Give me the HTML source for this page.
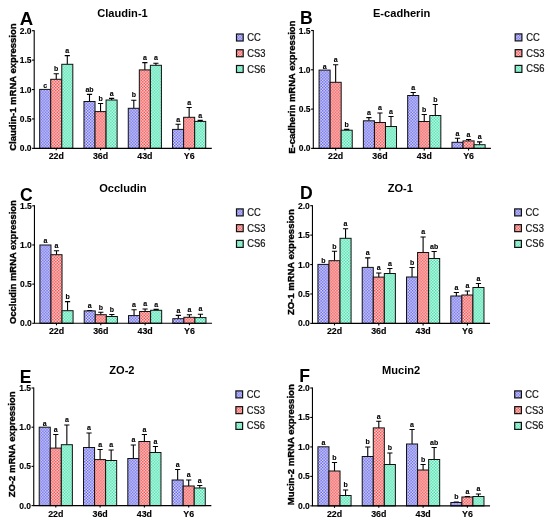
<!DOCTYPE html>
<html lang="en"><head><meta charset="utf-8"><title>Tight junction mRNA expression</title>
<style>html,body{margin:0;padding:0;background:#fff}body{width:550px;height:523px;overflow:hidden}svg{display:block}text{font-family:"Liberation Sans",Arial,Helvetica,sans-serif;fill:#000}.b{font-weight:bold}.pl{font-size:17.6px}.tt{font-size:11.1px}.yl{stroke:#000;stroke-width:0.35px}.tk{font-size:8.5px;stroke:#000;stroke-width:0.12px}.xl{font-size:8.85px;stroke:#000;stroke-width:0.12px}.sg{font-size:7px;stroke:#000;stroke-width:0.12px}.lg{font-size:10.2px;fill:#111;stroke:#111;stroke-width:0.2px}</style></head><body>
<svg width="550" height="523" viewBox="0 0 550 523">
<defs>
<pattern id="pcc" patternUnits="userSpaceOnUse" width="2.9" height="2.9"><rect width="2.9" height="2.9" fill="#e4e4ff"/><rect x="0" y="0" width="1.45" height="1.45" fill="#5c5ce4"/><rect x="1.45" y="1.45" width="1.45" height="1.45" fill="#5c5ce4"/></pattern>
<pattern id="pcs3" patternUnits="userSpaceOnUse" width="2.9" height="2.9"><rect width="2.9" height="2.9" fill="#ffd8d8"/><rect x="0" y="0" width="1.45" height="1.45" fill="#f04c4c"/><rect x="1.45" y="1.45" width="1.45" height="1.45" fill="#f04c4c"/></pattern>
<pattern id="pcs6" patternUnits="userSpaceOnUse" width="2.9" height="2.9"><rect width="2.9" height="2.9" fill="#d4fff0"/><rect x="0" y="0" width="1.45" height="1.45" fill="#40dca8"/><rect x="1.45" y="1.45" width="1.45" height="1.45" fill="#40dca8"/></pattern>
</defs>
<rect width="550" height="523" fill="#fff"/>
<g id="panel-A">
<text class="b pl" transform="translate(19.8,25.0) scale(1.06,1)">A</text>
<text class="b tt" x="122.5" y="16.7" text-anchor="middle">Claudin-1</text>
<text class="b yl" font-size="9.5" transform="translate(15.85,87.1) rotate(-90)" text-anchor="middle">Claudin-1 mRNA expression</text>
<rect x="39.67" y="89.40" width="11.05" height="58.95" fill="url(#pcc)" stroke="#111" stroke-width="1"/>
<text class="b sg" x="45.20" y="87.80" text-anchor="middle">c</text>
<path d="M56.25 79.30V73.70M53.65 73.70H58.85" stroke="#000" stroke-width="1.1" fill="none"/>
<rect x="50.72" y="79.30" width="11.05" height="69.05" fill="url(#pcs3)" stroke="#111" stroke-width="1"/>
<text class="b sg" x="56.25" y="70.90" text-anchor="middle">b</text>
<path d="M67.30 64.30V55.60M64.70 55.60H69.90" stroke="#000" stroke-width="1.1" fill="none"/>
<rect x="61.77" y="64.30" width="11.05" height="84.05" fill="url(#pcs6)" stroke="#111" stroke-width="1"/>
<text class="b sg" x="67.30" y="52.80" text-anchor="middle">a</text>
<path d="M56.25 148.35v2.0" stroke="#000" stroke-width="1.1"/>
<text class="b xl" x="56.25" y="159.1" text-anchor="middle">22d</text>
<path d="M89.50 101.50V94.40M86.90 94.40H92.10" stroke="#000" stroke-width="1.1" fill="none"/>
<rect x="83.97" y="101.50" width="11.05" height="46.85" fill="url(#pcc)" stroke="#111" stroke-width="1"/>
<text class="b sg" x="89.50" y="91.60" text-anchor="middle">ab</text>
<path d="M100.55 111.60V103.50M97.95 103.50H103.15" stroke="#000" stroke-width="1.1" fill="none"/>
<rect x="95.02" y="111.60" width="11.05" height="36.75" fill="url(#pcs3)" stroke="#111" stroke-width="1"/>
<text class="b sg" x="100.55" y="100.70" text-anchor="middle">b</text>
<path d="M111.60 100.00V98.40M109.00 98.40H114.20" stroke="#000" stroke-width="1.1" fill="none"/>
<rect x="106.07" y="100.00" width="11.05" height="48.35" fill="url(#pcs6)" stroke="#111" stroke-width="1"/>
<text class="b sg" x="111.60" y="95.60" text-anchor="middle">a</text>
<path d="M100.55 148.35v2.0" stroke="#000" stroke-width="1.1"/>
<text class="b xl" x="100.55" y="159.1" text-anchor="middle">36d</text>
<path d="M133.80 108.30V100.20M131.20 100.20H136.40" stroke="#000" stroke-width="1.1" fill="none"/>
<rect x="128.27" y="108.30" width="11.05" height="40.05" fill="url(#pcc)" stroke="#111" stroke-width="1"/>
<text class="b sg" x="133.80" y="97.40" text-anchor="middle">b</text>
<path d="M144.85 69.90V62.60M142.25 62.60H147.45" stroke="#000" stroke-width="1.1" fill="none"/>
<rect x="139.32" y="69.90" width="11.05" height="78.45" fill="url(#pcs3)" stroke="#111" stroke-width="1"/>
<text class="b sg" x="144.85" y="59.80" text-anchor="middle">a</text>
<path d="M155.90 65.30V63.20M153.30 63.20H158.50" stroke="#000" stroke-width="1.1" fill="none"/>
<rect x="150.37" y="65.30" width="11.05" height="83.05" fill="url(#pcs6)" stroke="#111" stroke-width="1"/>
<text class="b sg" x="155.90" y="60.40" text-anchor="middle">a</text>
<path d="M144.85 148.35v2.0" stroke="#000" stroke-width="1.1"/>
<text class="b xl" x="144.85" y="159.1" text-anchor="middle">43d</text>
<path d="M178.10 129.40V124.30M175.50 124.30H180.70" stroke="#000" stroke-width="1.1" fill="none"/>
<rect x="172.57" y="129.40" width="11.05" height="18.95" fill="url(#pcc)" stroke="#111" stroke-width="1"/>
<text class="b sg" x="178.10" y="121.50" text-anchor="middle">a</text>
<path d="M189.15 117.30V107.50M186.55 107.50H191.75" stroke="#000" stroke-width="1.1" fill="none"/>
<rect x="183.62" y="117.30" width="11.05" height="31.05" fill="url(#pcs3)" stroke="#111" stroke-width="1"/>
<text class="b sg" x="189.15" y="104.70" text-anchor="middle">a</text>
<path d="M200.20 121.40V120.40M197.60 120.40H202.80" stroke="#000" stroke-width="1.1" fill="none"/>
<rect x="194.67" y="121.40" width="11.05" height="26.95" fill="url(#pcs6)" stroke="#111" stroke-width="1"/>
<text class="b sg" x="200.20" y="117.60" text-anchor="middle">a</text>
<path d="M189.15 148.35v2.0" stroke="#000" stroke-width="1.1"/>
<text class="b xl" x="189.15" y="159.1" text-anchor="middle">Y6</text>
<path d="M34.2 30.2V148.35H211.8" stroke="#000" stroke-width="1.1" fill="none"/>
<path d="M32.00 148.35H34.2" stroke="#000" stroke-width="1.1"/>
<text class="b tk" x="31.500000000000004" y="151.35" text-anchor="end">0.0</text>
<path d="M32.00 118.94H34.2" stroke="#000" stroke-width="1.1"/>
<text class="b tk" x="31.500000000000004" y="121.94" text-anchor="end">0.5</text>
<path d="M32.00 89.53H34.2" stroke="#000" stroke-width="1.1"/>
<text class="b tk" x="31.500000000000004" y="92.53" text-anchor="end">1.0</text>
<path d="M32.00 60.11H34.2" stroke="#000" stroke-width="1.1"/>
<text class="b tk" x="31.500000000000004" y="63.11" text-anchor="end">1.5</text>
<path d="M32.00 30.70H34.2" stroke="#000" stroke-width="1.1"/>
<text class="b tk" x="31.500000000000004" y="33.70" text-anchor="end">2.0</text>
<rect x="236.50" y="34.00" width="6.7" height="7.0" fill="url(#pcc)" stroke="#111" stroke-width="1.2"/>
<text class="lg" transform="translate(247.30,41.00) scale(0.92,1)">CC</text>
<rect x="236.50" y="49.75" width="6.7" height="7.0" fill="url(#pcs3)" stroke="#111" stroke-width="1.2"/>
<text class="lg" transform="translate(247.30,56.75) scale(0.92,1)">CS3</text>
<rect x="236.50" y="65.50" width="6.7" height="7.0" fill="url(#pcs6)" stroke="#111" stroke-width="1.2"/>
<text class="lg" transform="translate(247.30,72.50) scale(0.92,1)">CS6</text>
</g>
<g id="panel-B">
<text class="b pl" transform="translate(300.1,24.3) scale(1,1)">B</text>
<text class="b tt" x="401.65" y="16.6" text-anchor="middle">E-cadherin</text>
<text class="b yl" font-size="9.5" transform="translate(295.1,87.2) rotate(-90)" text-anchor="middle">E-cadherin mRNA expression</text>
<rect x="319.08" y="70.10" width="11.05" height="78.30" fill="url(#pcc)" stroke="#111" stroke-width="1"/>
<text class="b sg" x="324.60" y="68.50" text-anchor="middle">a</text>
<path d="M335.65 82.30V64.70M333.05 64.70H338.25" stroke="#000" stroke-width="1.1" fill="none"/>
<rect x="330.13" y="82.30" width="11.05" height="66.10" fill="url(#pcs3)" stroke="#111" stroke-width="1"/>
<text class="b sg" x="335.65" y="61.90" text-anchor="middle">a</text>
<path d="M346.70 130.20V129.40M344.10 129.40H349.30" stroke="#000" stroke-width="1.1" fill="none"/>
<rect x="341.18" y="130.20" width="11.05" height="18.20" fill="url(#pcs6)" stroke="#111" stroke-width="1"/>
<text class="b sg" x="346.70" y="126.60" text-anchor="middle">b</text>
<path d="M335.65 148.4v2.0" stroke="#000" stroke-width="1.1"/>
<text class="b xl" x="335.65" y="159.1" text-anchor="middle">22d</text>
<path d="M368.90 120.80V117.60M366.30 117.60H371.50" stroke="#000" stroke-width="1.1" fill="none"/>
<rect x="363.38" y="120.80" width="11.05" height="27.60" fill="url(#pcc)" stroke="#111" stroke-width="1"/>
<text class="b sg" x="368.90" y="114.80" text-anchor="middle">a</text>
<path d="M379.95 122.50V113.00M377.35 113.00H382.55" stroke="#000" stroke-width="1.1" fill="none"/>
<rect x="374.43" y="122.50" width="11.05" height="25.90" fill="url(#pcs3)" stroke="#111" stroke-width="1"/>
<text class="b sg" x="379.95" y="110.20" text-anchor="middle">a</text>
<path d="M391.00 126.50V116.50M388.40 116.50H393.60" stroke="#000" stroke-width="1.1" fill="none"/>
<rect x="385.48" y="126.50" width="11.05" height="21.90" fill="url(#pcs6)" stroke="#111" stroke-width="1"/>
<text class="b sg" x="391.00" y="113.70" text-anchor="middle">a</text>
<path d="M379.95 148.4v2.0" stroke="#000" stroke-width="1.1"/>
<text class="b xl" x="379.95" y="159.1" text-anchor="middle">36d</text>
<path d="M413.20 95.50V92.50M410.60 92.50H415.80" stroke="#000" stroke-width="1.1" fill="none"/>
<rect x="407.68" y="95.50" width="11.05" height="52.90" fill="url(#pcc)" stroke="#111" stroke-width="1"/>
<text class="b sg" x="413.20" y="89.70" text-anchor="middle">a</text>
<path d="M424.25 121.50V114.50M421.65 114.50H426.85" stroke="#000" stroke-width="1.1" fill="none"/>
<rect x="418.73" y="121.50" width="11.05" height="26.90" fill="url(#pcs3)" stroke="#111" stroke-width="1"/>
<text class="b sg" x="424.25" y="111.70" text-anchor="middle">b</text>
<path d="M435.30 115.50V104.50M432.70 104.50H437.90" stroke="#000" stroke-width="1.1" fill="none"/>
<rect x="429.78" y="115.50" width="11.05" height="32.90" fill="url(#pcs6)" stroke="#111" stroke-width="1"/>
<text class="b sg" x="435.30" y="101.70" text-anchor="middle">b</text>
<path d="M424.25 148.4v2.0" stroke="#000" stroke-width="1.1"/>
<text class="b xl" x="424.25" y="159.1" text-anchor="middle">43d</text>
<path d="M457.50 142.30V138.30M454.90 138.30H460.10" stroke="#000" stroke-width="1.1" fill="none"/>
<rect x="451.98" y="142.30" width="11.05" height="6.10" fill="url(#pcc)" stroke="#111" stroke-width="1"/>
<text class="b sg" x="457.50" y="135.50" text-anchor="middle">a</text>
<path d="M468.55 140.90V139.50M465.95 139.50H471.15" stroke="#000" stroke-width="1.1" fill="none"/>
<rect x="463.03" y="140.90" width="11.05" height="7.50" fill="url(#pcs3)" stroke="#111" stroke-width="1"/>
<text class="b sg" x="468.55" y="136.70" text-anchor="middle">a</text>
<path d="M479.60 144.70V141.90M477.00 141.90H482.20" stroke="#000" stroke-width="1.1" fill="none"/>
<rect x="474.08" y="144.70" width="11.05" height="3.70" fill="url(#pcs6)" stroke="#111" stroke-width="1"/>
<text class="b sg" x="479.60" y="139.10" text-anchor="middle">a</text>
<path d="M468.55 148.4v2.0" stroke="#000" stroke-width="1.1"/>
<text class="b xl" x="468.55" y="159.1" text-anchor="middle">Y6</text>
<path d="M313.3 30.0V148.4H490.9" stroke="#000" stroke-width="1.1" fill="none"/>
<path d="M311.10 148.40H313.3" stroke="#000" stroke-width="1.1"/>
<text class="b tk" x="310.6" y="151.40" text-anchor="end">0.0</text>
<path d="M311.10 109.10H313.3" stroke="#000" stroke-width="1.1"/>
<text class="b tk" x="310.6" y="112.10" text-anchor="end">0.5</text>
<path d="M311.10 69.80H313.3" stroke="#000" stroke-width="1.1"/>
<text class="b tk" x="310.6" y="72.80" text-anchor="end">1.0</text>
<path d="M311.10 30.50H313.3" stroke="#000" stroke-width="1.1"/>
<text class="b tk" x="310.6" y="33.50" text-anchor="end">1.5</text>
<rect x="515.20" y="33.90" width="6.7" height="7.0" fill="url(#pcc)" stroke="#111" stroke-width="1.2"/>
<text class="lg" transform="translate(526.30,40.90) scale(0.92,1)">CC</text>
<rect x="515.20" y="49.65" width="6.7" height="7.0" fill="url(#pcs3)" stroke="#111" stroke-width="1.2"/>
<text class="lg" transform="translate(526.30,56.65) scale(0.92,1)">CS3</text>
<rect x="515.20" y="65.40" width="6.7" height="7.0" fill="url(#pcs6)" stroke="#111" stroke-width="1.2"/>
<text class="lg" transform="translate(526.30,72.40) scale(0.92,1)">CS6</text>
</g>
<g id="panel-C">
<text class="b pl" transform="translate(20.0,200.7) scale(1,1)">C</text>
<text class="b tt" x="122.9" y="191.6" text-anchor="middle">Occludin</text>
<text class="b yl" font-size="9.43" transform="translate(15.85,262.1) rotate(-90)" text-anchor="middle">Occludin mRNA expression</text>
<rect x="39.92" y="245.00" width="11.05" height="78.30" fill="url(#pcc)" stroke="#111" stroke-width="1"/>
<text class="b sg" x="45.45" y="243.40" text-anchor="middle">a</text>
<path d="M56.50 254.70V250.70M53.90 250.70H59.10" stroke="#000" stroke-width="1.1" fill="none"/>
<rect x="50.97" y="254.70" width="11.05" height="68.60" fill="url(#pcs3)" stroke="#111" stroke-width="1"/>
<text class="b sg" x="56.50" y="247.90" text-anchor="middle">a</text>
<path d="M67.55 310.70V301.60M64.95 301.60H70.15" stroke="#000" stroke-width="1.1" fill="none"/>
<rect x="62.02" y="310.70" width="11.05" height="12.60" fill="url(#pcs6)" stroke="#111" stroke-width="1"/>
<text class="b sg" x="67.55" y="298.80" text-anchor="middle">b</text>
<path d="M56.50 323.3v2.0" stroke="#000" stroke-width="1.1"/>
<text class="b xl" x="56.50" y="334.1" text-anchor="middle">22d</text>
<path d="M89.75 310.90V310.60M87.15 310.60H92.35" stroke="#000" stroke-width="1.1" fill="none"/>
<rect x="84.22" y="310.90" width="11.05" height="12.40" fill="url(#pcc)" stroke="#111" stroke-width="1"/>
<text class="b sg" x="89.75" y="307.80" text-anchor="middle">a</text>
<path d="M100.80 314.70V312.30M98.20 312.30H103.40" stroke="#000" stroke-width="1.1" fill="none"/>
<rect x="95.27" y="314.70" width="11.05" height="8.60" fill="url(#pcs3)" stroke="#111" stroke-width="1"/>
<text class="b sg" x="100.80" y="309.50" text-anchor="middle">b</text>
<path d="M111.85 316.50V314.50M109.25 314.50H114.45" stroke="#000" stroke-width="1.1" fill="none"/>
<rect x="106.32" y="316.50" width="11.05" height="6.80" fill="url(#pcs6)" stroke="#111" stroke-width="1"/>
<text class="b sg" x="111.85" y="311.70" text-anchor="middle">b</text>
<path d="M100.80 323.3v2.0" stroke="#000" stroke-width="1.1"/>
<text class="b xl" x="100.80" y="334.1" text-anchor="middle">36d</text>
<path d="M134.05 315.60V309.70M131.45 309.70H136.65" stroke="#000" stroke-width="1.1" fill="none"/>
<rect x="128.52" y="315.60" width="11.05" height="7.70" fill="url(#pcc)" stroke="#111" stroke-width="1"/>
<text class="b sg" x="134.05" y="306.90" text-anchor="middle">a</text>
<path d="M145.10 311.50V309.00M142.50 309.00H147.70" stroke="#000" stroke-width="1.1" fill="none"/>
<rect x="139.57" y="311.50" width="11.05" height="11.80" fill="url(#pcs3)" stroke="#111" stroke-width="1"/>
<text class="b sg" x="145.10" y="306.20" text-anchor="middle">a</text>
<path d="M156.15 310.30V309.40M153.55 309.40H158.75" stroke="#000" stroke-width="1.1" fill="none"/>
<rect x="150.62" y="310.30" width="11.05" height="13.00" fill="url(#pcs6)" stroke="#111" stroke-width="1"/>
<text class="b sg" x="156.15" y="306.60" text-anchor="middle">a</text>
<path d="M145.10 323.3v2.0" stroke="#000" stroke-width="1.1"/>
<text class="b xl" x="145.10" y="334.1" text-anchor="middle">43d</text>
<path d="M178.35 318.70V315.40M175.75 315.40H180.95" stroke="#000" stroke-width="1.1" fill="none"/>
<rect x="172.82" y="318.70" width="11.05" height="4.60" fill="url(#pcc)" stroke="#111" stroke-width="1"/>
<text class="b sg" x="178.35" y="312.60" text-anchor="middle">a</text>
<path d="M189.40 317.30V314.80M186.80 314.80H192.00" stroke="#000" stroke-width="1.1" fill="none"/>
<rect x="183.88" y="317.30" width="11.05" height="6.00" fill="url(#pcs3)" stroke="#111" stroke-width="1"/>
<text class="b sg" x="189.40" y="312.00" text-anchor="middle">a</text>
<path d="M200.45 317.60V314.20M197.85 314.20H203.05" stroke="#000" stroke-width="1.1" fill="none"/>
<rect x="194.92" y="317.60" width="11.05" height="5.70" fill="url(#pcs6)" stroke="#111" stroke-width="1"/>
<text class="b sg" x="200.45" y="311.40" text-anchor="middle">a</text>
<path d="M189.40 323.3v2.0" stroke="#000" stroke-width="1.1"/>
<text class="b xl" x="189.40" y="334.1" text-anchor="middle">Y6</text>
<path d="M34.45 205.3V323.3H212.05" stroke="#000" stroke-width="1.1" fill="none"/>
<path d="M32.25 323.30H34.45" stroke="#000" stroke-width="1.1"/>
<text class="b tk" x="31.750000000000004" y="326.30" text-anchor="end">0.0</text>
<path d="M32.25 284.13H34.45" stroke="#000" stroke-width="1.1"/>
<text class="b tk" x="31.750000000000004" y="287.13" text-anchor="end">0.5</text>
<path d="M32.25 244.97H34.45" stroke="#000" stroke-width="1.1"/>
<text class="b tk" x="31.750000000000004" y="247.97" text-anchor="end">1.0</text>
<path d="M32.25 205.80H34.45" stroke="#000" stroke-width="1.1"/>
<text class="b tk" x="31.750000000000004" y="208.80" text-anchor="end">1.5</text>
<rect x="236.50" y="208.90" width="6.7" height="7.0" fill="url(#pcc)" stroke="#111" stroke-width="1.2"/>
<text class="lg" transform="translate(247.30,215.90) scale(0.92,1)">CC</text>
<rect x="236.50" y="224.65" width="6.7" height="7.0" fill="url(#pcs3)" stroke="#111" stroke-width="1.2"/>
<text class="lg" transform="translate(247.30,231.65) scale(0.92,1)">CS3</text>
<rect x="236.50" y="240.40" width="6.7" height="7.0" fill="url(#pcs6)" stroke="#111" stroke-width="1.2"/>
<text class="lg" transform="translate(247.30,247.40) scale(0.92,1)">CS6</text>
</g>
<g id="panel-D">
<text class="b pl" transform="translate(300.1,199.3) scale(1,1)">D</text>
<text class="b tt" x="400.3" y="191.6" text-anchor="middle">ZO-1</text>
<text class="b yl" font-size="9.5" transform="translate(293.9,262.2) rotate(-90)" text-anchor="middle">ZO-1 mRNA expression</text>
<rect x="317.93" y="264.40" width="11.05" height="59.00" fill="url(#pcc)" stroke="#111" stroke-width="1"/>
<text class="b sg" x="323.45" y="262.80" text-anchor="middle">b</text>
<path d="M334.50 260.70V251.30M331.90 251.30H337.10" stroke="#000" stroke-width="1.1" fill="none"/>
<rect x="328.98" y="260.70" width="11.05" height="62.70" fill="url(#pcs3)" stroke="#111" stroke-width="1"/>
<text class="b sg" x="334.50" y="248.50" text-anchor="middle">b</text>
<path d="M345.55 238.30V228.80M342.95 228.80H348.15" stroke="#000" stroke-width="1.1" fill="none"/>
<rect x="340.03" y="238.30" width="11.05" height="85.10" fill="url(#pcs6)" stroke="#111" stroke-width="1"/>
<text class="b sg" x="345.55" y="226.00" text-anchor="middle">a</text>
<path d="M334.50 323.4v2.0" stroke="#000" stroke-width="1.1"/>
<text class="b xl" x="334.50" y="334.1" text-anchor="middle">22d</text>
<path d="M367.75 267.40V257.90M365.15 257.90H370.35" stroke="#000" stroke-width="1.1" fill="none"/>
<rect x="362.23" y="267.40" width="11.05" height="56.00" fill="url(#pcc)" stroke="#111" stroke-width="1"/>
<text class="b sg" x="367.75" y="255.10" text-anchor="middle">a</text>
<path d="M378.80 277.10V273.00M376.20 273.00H381.40" stroke="#000" stroke-width="1.1" fill="none"/>
<rect x="373.28" y="277.10" width="11.05" height="46.30" fill="url(#pcs3)" stroke="#111" stroke-width="1"/>
<text class="b sg" x="378.80" y="270.20" text-anchor="middle">a</text>
<path d="M389.85 273.50V268.50M387.25 268.50H392.45" stroke="#000" stroke-width="1.1" fill="none"/>
<rect x="384.33" y="273.50" width="11.05" height="49.90" fill="url(#pcs6)" stroke="#111" stroke-width="1"/>
<text class="b sg" x="389.85" y="265.70" text-anchor="middle">a</text>
<path d="M378.80 323.4v2.0" stroke="#000" stroke-width="1.1"/>
<text class="b xl" x="378.80" y="334.1" text-anchor="middle">36d</text>
<path d="M412.05 277.00V267.50M409.45 267.50H414.65" stroke="#000" stroke-width="1.1" fill="none"/>
<rect x="406.53" y="277.00" width="11.05" height="46.40" fill="url(#pcc)" stroke="#111" stroke-width="1"/>
<text class="b sg" x="412.05" y="264.70" text-anchor="middle">b</text>
<path d="M423.10 252.50V237.00M420.50 237.00H425.70" stroke="#000" stroke-width="1.1" fill="none"/>
<rect x="417.58" y="252.50" width="11.05" height="70.90" fill="url(#pcs3)" stroke="#111" stroke-width="1"/>
<text class="b sg" x="423.10" y="234.20" text-anchor="middle">a</text>
<path d="M434.15 258.50V251.50M431.55 251.50H436.75" stroke="#000" stroke-width="1.1" fill="none"/>
<rect x="428.63" y="258.50" width="11.05" height="64.90" fill="url(#pcs6)" stroke="#111" stroke-width="1"/>
<text class="b sg" x="434.15" y="248.70" text-anchor="middle">ab</text>
<path d="M423.10 323.4v2.0" stroke="#000" stroke-width="1.1"/>
<text class="b xl" x="423.10" y="334.1" text-anchor="middle">43d</text>
<path d="M456.35 296.00V292.50M453.75 292.50H458.95" stroke="#000" stroke-width="1.1" fill="none"/>
<rect x="450.82" y="296.00" width="11.05" height="27.40" fill="url(#pcc)" stroke="#111" stroke-width="1"/>
<text class="b sg" x="456.35" y="289.70" text-anchor="middle">a</text>
<path d="M467.40 295.00V291.00M464.80 291.00H470.00" stroke="#000" stroke-width="1.1" fill="none"/>
<rect x="461.88" y="295.00" width="11.05" height="28.40" fill="url(#pcs3)" stroke="#111" stroke-width="1"/>
<text class="b sg" x="467.40" y="288.20" text-anchor="middle">a</text>
<path d="M478.45 287.50V283.50M475.85 283.50H481.05" stroke="#000" stroke-width="1.1" fill="none"/>
<rect x="472.93" y="287.50" width="11.05" height="35.90" fill="url(#pcs6)" stroke="#111" stroke-width="1"/>
<text class="b sg" x="478.45" y="280.70" text-anchor="middle">a</text>
<path d="M467.40 323.4v2.0" stroke="#000" stroke-width="1.1"/>
<text class="b xl" x="467.40" y="334.1" text-anchor="middle">Y6</text>
<path d="M312.45 205.2V323.4H490.05" stroke="#000" stroke-width="1.1" fill="none"/>
<path d="M310.25 323.40H312.45" stroke="#000" stroke-width="1.1"/>
<text class="b tk" x="309.75" y="326.40" text-anchor="end">0.0</text>
<path d="M310.25 293.97H312.45" stroke="#000" stroke-width="1.1"/>
<text class="b tk" x="309.75" y="296.97" text-anchor="end">0.5</text>
<path d="M310.25 264.55H312.45" stroke="#000" stroke-width="1.1"/>
<text class="b tk" x="309.75" y="267.55" text-anchor="end">1.0</text>
<path d="M310.25 235.12H312.45" stroke="#000" stroke-width="1.1"/>
<text class="b tk" x="309.75" y="238.12" text-anchor="end">1.5</text>
<path d="M310.25 205.70H312.45" stroke="#000" stroke-width="1.1"/>
<text class="b tk" x="309.75" y="208.70" text-anchor="end">2.0</text>
<rect x="514.70" y="208.90" width="6.7" height="7.0" fill="url(#pcc)" stroke="#111" stroke-width="1.2"/>
<text class="lg" transform="translate(525.60,215.90) scale(0.92,1)">CC</text>
<rect x="514.70" y="224.65" width="6.7" height="7.0" fill="url(#pcs3)" stroke="#111" stroke-width="1.2"/>
<text class="lg" transform="translate(525.60,231.65) scale(0.92,1)">CS3</text>
<rect x="514.70" y="240.40" width="6.7" height="7.0" fill="url(#pcs6)" stroke="#111" stroke-width="1.2"/>
<text class="lg" transform="translate(525.60,247.40) scale(0.92,1)">CS6</text>
</g>
<g id="panel-E">
<text class="b pl" transform="translate(19.8,382.5) scale(1,1)">E</text>
<text class="b tt" x="121.9" y="373.6" text-anchor="middle">ZO-2</text>
<text class="b yl" font-size="9.5" transform="translate(15.3,444.4) rotate(-90)" text-anchor="middle">ZO-2 mRNA expression</text>
<rect x="39.22" y="427.20" width="11.05" height="78.40" fill="url(#pcc)" stroke="#111" stroke-width="1"/>
<text class="b sg" x="44.75" y="425.60" text-anchor="middle">a</text>
<path d="M55.80 448.10V434.50M53.20 434.50H58.40" stroke="#000" stroke-width="1.1" fill="none"/>
<rect x="50.27" y="448.10" width="11.05" height="57.50" fill="url(#pcs3)" stroke="#111" stroke-width="1"/>
<text class="b sg" x="55.80" y="431.70" text-anchor="middle">a</text>
<path d="M66.85 444.70V425.00M64.25 425.00H69.45" stroke="#000" stroke-width="1.1" fill="none"/>
<rect x="61.32" y="444.70" width="11.05" height="60.90" fill="url(#pcs6)" stroke="#111" stroke-width="1"/>
<text class="b sg" x="66.85" y="422.20" text-anchor="middle">a</text>
<path d="M55.80 505.6v2.0" stroke="#000" stroke-width="1.1"/>
<text class="b xl" x="55.80" y="516.6" text-anchor="middle">22d</text>
<path d="M89.05 447.50V433.00M86.45 433.00H91.65" stroke="#000" stroke-width="1.1" fill="none"/>
<rect x="83.52" y="447.50" width="11.05" height="58.10" fill="url(#pcc)" stroke="#111" stroke-width="1"/>
<text class="b sg" x="89.05" y="430.20" text-anchor="middle">a</text>
<path d="M100.10 459.60V449.50M97.50 449.50H102.70" stroke="#000" stroke-width="1.1" fill="none"/>
<rect x="94.57" y="459.60" width="11.05" height="46.00" fill="url(#pcs3)" stroke="#111" stroke-width="1"/>
<text class="b sg" x="100.10" y="446.70" text-anchor="middle">a</text>
<path d="M111.15 460.50V450.00M108.55 450.00H113.75" stroke="#000" stroke-width="1.1" fill="none"/>
<rect x="105.62" y="460.50" width="11.05" height="45.10" fill="url(#pcs6)" stroke="#111" stroke-width="1"/>
<text class="b sg" x="111.15" y="447.20" text-anchor="middle">a</text>
<path d="M100.10 505.6v2.0" stroke="#000" stroke-width="1.1"/>
<text class="b xl" x="100.10" y="516.6" text-anchor="middle">36d</text>
<path d="M133.35 458.50V445.00M130.75 445.00H135.95" stroke="#000" stroke-width="1.1" fill="none"/>
<rect x="127.82" y="458.50" width="11.05" height="47.10" fill="url(#pcc)" stroke="#111" stroke-width="1"/>
<text class="b sg" x="133.35" y="442.20" text-anchor="middle">a</text>
<path d="M144.40 441.50V434.50M141.80 434.50H147.00" stroke="#000" stroke-width="1.1" fill="none"/>
<rect x="138.87" y="441.50" width="11.05" height="64.10" fill="url(#pcs3)" stroke="#111" stroke-width="1"/>
<text class="b sg" x="144.40" y="431.70" text-anchor="middle">a</text>
<path d="M155.45 452.50V446.50M152.85 446.50H158.05" stroke="#000" stroke-width="1.1" fill="none"/>
<rect x="149.92" y="452.50" width="11.05" height="53.10" fill="url(#pcs6)" stroke="#111" stroke-width="1"/>
<text class="b sg" x="155.45" y="443.70" text-anchor="middle">a</text>
<path d="M144.40 505.6v2.0" stroke="#000" stroke-width="1.1"/>
<text class="b xl" x="144.40" y="516.6" text-anchor="middle">43d</text>
<path d="M177.65 480.00V469.50M175.05 469.50H180.25" stroke="#000" stroke-width="1.1" fill="none"/>
<rect x="172.12" y="480.00" width="11.05" height="25.60" fill="url(#pcc)" stroke="#111" stroke-width="1"/>
<text class="b sg" x="177.65" y="466.70" text-anchor="middle">a</text>
<path d="M188.70 486.00V480.00M186.10 480.00H191.30" stroke="#000" stroke-width="1.1" fill="none"/>
<rect x="183.18" y="486.00" width="11.05" height="19.60" fill="url(#pcs3)" stroke="#111" stroke-width="1"/>
<text class="b sg" x="188.70" y="477.20" text-anchor="middle">a</text>
<path d="M199.75 488.00V485.50M197.15 485.50H202.35" stroke="#000" stroke-width="1.1" fill="none"/>
<rect x="194.22" y="488.00" width="11.05" height="17.60" fill="url(#pcs6)" stroke="#111" stroke-width="1"/>
<text class="b sg" x="199.75" y="482.70" text-anchor="middle">a</text>
<path d="M188.70 505.6v2.0" stroke="#000" stroke-width="1.1"/>
<text class="b xl" x="188.70" y="516.6" text-anchor="middle">Y6</text>
<path d="M33.75 387.5V505.6H211.35" stroke="#000" stroke-width="1.1" fill="none"/>
<path d="M31.55 505.60H33.75" stroke="#000" stroke-width="1.1"/>
<text class="b tk" x="31.05" y="508.60" text-anchor="end">0.0</text>
<path d="M31.55 466.40H33.75" stroke="#000" stroke-width="1.1"/>
<text class="b tk" x="31.05" y="469.40" text-anchor="end">0.5</text>
<path d="M31.55 427.20H33.75" stroke="#000" stroke-width="1.1"/>
<text class="b tk" x="31.05" y="430.20" text-anchor="end">1.0</text>
<path d="M31.55 388.00H33.75" stroke="#000" stroke-width="1.1"/>
<text class="b tk" x="31.05" y="391.00" text-anchor="end">1.5</text>
<rect x="235.90" y="390.90" width="6.7" height="7.0" fill="url(#pcc)" stroke="#111" stroke-width="1.2"/>
<text class="lg" transform="translate(246.80,397.90) scale(0.92,1)">CC</text>
<rect x="235.90" y="406.65" width="6.7" height="7.0" fill="url(#pcs3)" stroke="#111" stroke-width="1.2"/>
<text class="lg" transform="translate(246.80,413.65) scale(0.92,1)">CS3</text>
<rect x="235.90" y="422.40" width="6.7" height="7.0" fill="url(#pcs6)" stroke="#111" stroke-width="1.2"/>
<text class="lg" transform="translate(246.80,429.40) scale(0.92,1)">CS6</text>
</g>
<g id="panel-F">
<text class="b pl" transform="translate(299.2,382.4) scale(1,1)">F</text>
<text class="b tt" x="401.2" y="373.6" text-anchor="middle">Mucin2</text>
<text class="b yl" font-size="9.58" transform="translate(294.0,444.7) rotate(-90)" text-anchor="middle">Mucin-2 mRNA expression</text>
<rect x="317.93" y="446.80" width="11.05" height="59.05" fill="url(#pcc)" stroke="#111" stroke-width="1"/>
<text class="b sg" x="323.45" y="445.20" text-anchor="middle">a</text>
<path d="M334.50 471.00V462.50M331.90 462.50H337.10" stroke="#000" stroke-width="1.1" fill="none"/>
<rect x="328.98" y="471.00" width="11.05" height="34.85" fill="url(#pcs3)" stroke="#111" stroke-width="1"/>
<text class="b sg" x="334.50" y="459.70" text-anchor="middle">b</text>
<path d="M345.55 495.50V490.00M342.95 490.00H348.15" stroke="#000" stroke-width="1.1" fill="none"/>
<rect x="340.03" y="495.50" width="11.05" height="10.35" fill="url(#pcs6)" stroke="#111" stroke-width="1"/>
<text class="b sg" x="345.55" y="487.20" text-anchor="middle">b</text>
<path d="M334.50 505.85v2.0" stroke="#000" stroke-width="1.1"/>
<text class="b xl" x="334.50" y="516.6" text-anchor="middle">22d</text>
<path d="M367.75 456.50V447.00M365.15 447.00H370.35" stroke="#000" stroke-width="1.1" fill="none"/>
<rect x="362.23" y="456.50" width="11.05" height="49.35" fill="url(#pcc)" stroke="#111" stroke-width="1"/>
<text class="b sg" x="367.75" y="444.20" text-anchor="middle">b</text>
<path d="M378.80 427.90V421.30M376.20 421.30H381.40" stroke="#000" stroke-width="1.1" fill="none"/>
<rect x="373.28" y="427.90" width="11.05" height="77.95" fill="url(#pcs3)" stroke="#111" stroke-width="1"/>
<text class="b sg" x="378.80" y="418.50" text-anchor="middle">a</text>
<path d="M389.85 464.50V453.00M387.25 453.00H392.45" stroke="#000" stroke-width="1.1" fill="none"/>
<rect x="384.33" y="464.50" width="11.05" height="41.35" fill="url(#pcs6)" stroke="#111" stroke-width="1"/>
<text class="b sg" x="389.85" y="450.20" text-anchor="middle">b</text>
<path d="M378.80 505.85v2.0" stroke="#000" stroke-width="1.1"/>
<text class="b xl" x="378.80" y="516.6" text-anchor="middle">36d</text>
<path d="M412.05 444.00V429.50M409.45 429.50H414.65" stroke="#000" stroke-width="1.1" fill="none"/>
<rect x="406.53" y="444.00" width="11.05" height="61.85" fill="url(#pcc)" stroke="#111" stroke-width="1"/>
<text class="b sg" x="412.05" y="426.70" text-anchor="middle">a</text>
<path d="M423.10 470.00V464.50M420.50 464.50H425.70" stroke="#000" stroke-width="1.1" fill="none"/>
<rect x="417.58" y="470.00" width="11.05" height="35.85" fill="url(#pcs3)" stroke="#111" stroke-width="1"/>
<text class="b sg" x="423.10" y="461.70" text-anchor="middle">b</text>
<path d="M434.15 459.50V447.50M431.55 447.50H436.75" stroke="#000" stroke-width="1.1" fill="none"/>
<rect x="428.63" y="459.50" width="11.05" height="46.35" fill="url(#pcs6)" stroke="#111" stroke-width="1"/>
<text class="b sg" x="434.15" y="444.70" text-anchor="middle">ab</text>
<path d="M423.10 505.85v2.0" stroke="#000" stroke-width="1.1"/>
<text class="b xl" x="423.10" y="516.6" text-anchor="middle">43d</text>
<path d="M456.35 502.50V502.00M453.75 502.00H458.95" stroke="#000" stroke-width="1.1" fill="none"/>
<rect x="450.82" y="502.50" width="11.05" height="3.35" fill="url(#pcc)" stroke="#111" stroke-width="1"/>
<text class="b sg" x="456.35" y="499.20" text-anchor="middle">b</text>
<path d="M467.40 497.00V496.60M464.80 496.60H470.00" stroke="#000" stroke-width="1.1" fill="none"/>
<rect x="461.88" y="497.00" width="11.05" height="8.85" fill="url(#pcs3)" stroke="#111" stroke-width="1"/>
<text class="b sg" x="467.40" y="493.80" text-anchor="middle">a</text>
<path d="M478.45 496.50V494.00M475.85 494.00H481.05" stroke="#000" stroke-width="1.1" fill="none"/>
<rect x="472.93" y="496.50" width="11.05" height="9.35" fill="url(#pcs6)" stroke="#111" stroke-width="1"/>
<text class="b sg" x="478.45" y="491.20" text-anchor="middle">a</text>
<path d="M467.40 505.85v2.0" stroke="#000" stroke-width="1.1"/>
<text class="b xl" x="467.40" y="516.6" text-anchor="middle">Y6</text>
<path d="M312.45 387.5V505.85H490.05" stroke="#000" stroke-width="1.1" fill="none"/>
<path d="M310.25 505.85H312.45" stroke="#000" stroke-width="1.1"/>
<text class="b tk" x="309.75" y="508.85" text-anchor="end">0.0</text>
<path d="M310.25 476.39H312.45" stroke="#000" stroke-width="1.1"/>
<text class="b tk" x="309.75" y="479.39" text-anchor="end">0.5</text>
<path d="M310.25 446.93H312.45" stroke="#000" stroke-width="1.1"/>
<text class="b tk" x="309.75" y="449.93" text-anchor="end">1.0</text>
<path d="M310.25 417.46H312.45" stroke="#000" stroke-width="1.1"/>
<text class="b tk" x="309.75" y="420.46" text-anchor="end">1.5</text>
<path d="M310.25 388.00H312.45" stroke="#000" stroke-width="1.1"/>
<text class="b tk" x="309.75" y="391.00" text-anchor="end">2.0</text>
<rect x="514.70" y="390.90" width="6.7" height="7.0" fill="url(#pcc)" stroke="#111" stroke-width="1.2"/>
<text class="lg" transform="translate(525.30,397.90) scale(0.92,1)">CC</text>
<rect x="514.70" y="406.65" width="6.7" height="7.0" fill="url(#pcs3)" stroke="#111" stroke-width="1.2"/>
<text class="lg" transform="translate(525.30,413.65) scale(0.92,1)">CS3</text>
<rect x="514.70" y="422.40" width="6.7" height="7.0" fill="url(#pcs6)" stroke="#111" stroke-width="1.2"/>
<text class="lg" transform="translate(525.30,429.40) scale(0.92,1)">CS6</text>
</g>
</svg></body></html>
